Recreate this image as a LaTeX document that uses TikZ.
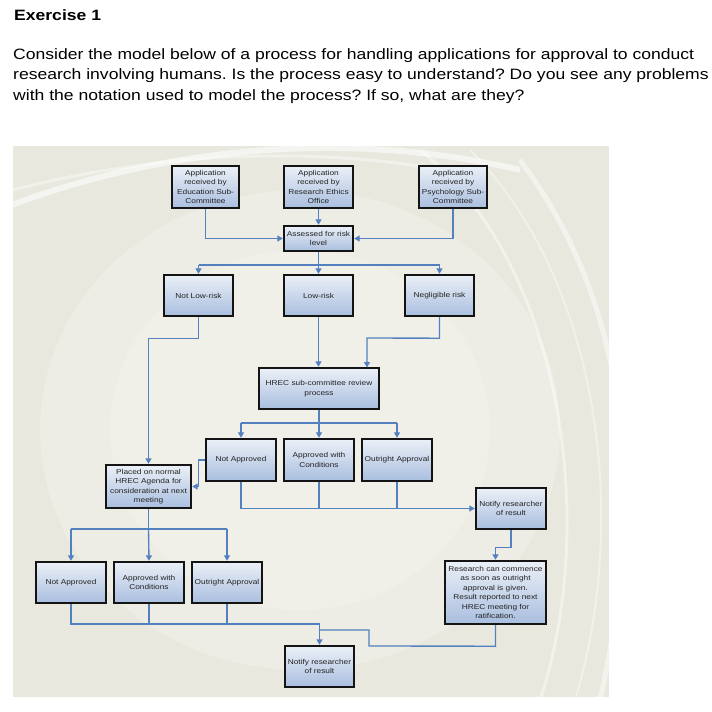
\documentclass[tikz,border=0pt]{standalone}
\usepackage{fontspec}
\setmainfont{Liberation Sans}[FakeStretch=1.17]
\usetikzlibrary{arrows.meta}
\definecolor{panel}{HTML}{E8E8DE}
\definecolor{boxtop}{HTML}{EBF0F7}
\definecolor{boxbot}{HTML}{A9BEDF}
\definecolor{conn}{HTML}{5380BF}
\definecolor{boxtext}{HTML}{222222}
\tikzset{
  procbox/.style={draw=black!92, line width=2.4pt, top color=boxtop, bottom color=boxbot,
    align=center, inner sep=1pt, text=boxtext,
    font=\fontsize{7.1}{9.5}\selectfont},
  flow/.style={draw=conn, line width=1.35pt},
  flowarr/.style={flow, -{Triangle[length=5.5pt,width=6pt]}},
  bodytext/.style={anchor=base west, inner sep=0pt, font=\fontsize{15}{21}\selectfont}
}
\newcommand{\pbox}[6]{\node[procbox, minimum width=#4pt, minimum height=#5pt] (#1) at (#2,#3) {#6};}
\frenchspacing
\begin{document}
\begin{tikzpicture}[x=1pt,y=-1pt]
\useasboundingbox[fill=white] (0,0) rectangle (712,712);
% texts
\node[bodytext, font=\fontsize{15}{21}\selectfont\bfseries] (title) at (14,20.7) {Exercise 1};
\node[bodytext] (l1) at (13,59) {Consider the model below of a process for handling applications for approval to conduct};
\node[bodytext] (l2) at (13,79.5) {research involving humans. Is the process easy to understand? Do you see any problems};
\node[bodytext] (l3) at (13,100) {with the notation used to model the process? If so, what are they?};
% panel
\fill[panel] (13,146) rectangle (609,697);
\begin{scope}
\clip (13,146) rectangle (609,697);
\fill[white, opacity=0.22] (300,430) ellipse (260 and 240);
\fill[white, opacity=0.18] (300,430) ellipse (190 and 180);
\draw[white, opacity=0.55, line width=6pt] (-60,235) .. controls (120,150) and (330,125) .. (520,170);
\draw[white, opacity=0.4, line width=3pt] (-40,205) .. controls (120,155) and (300,140) .. (470,175);
\draw[white, opacity=0.45, line width=3pt] (420,150) .. controls (560,260) and (600,520) .. (540,700);
\draw[white, opacity=0.4, line width=2pt] (470,150) .. controls (600,280) and (630,520) .. (575,700);
\draw[white, opacity=0.5, line width=5pt] (520,160) .. controls (640,320) and (640,520) .. (600,700);
\end{scope}
% boxes
\pbox{edu}{205.5}{187}{67}{42}{Application\\received by\\Education Sub-\\Committee}
\pbox{re}{318.5}{187}{69}{42}{Application\\received by\\Research Ethics\\Office}
\pbox{psy}{453}{187}{68}{42}{Application\\received by\\Psychology Sub-\\Committee}
\pbox{ass}{318.5}{238.5}{69}{25}{Assessed for risk\\level}
\pbox{nlr}{198.5}{295.5}{69}{41}{Not Low-risk}
\pbox{lr}{318.5}{295.5}{69}{41}{Low-risk}
\pbox{neg}{439.5}{295.5}{69}{41}{Negligible risk}
\pbox{hrec}{319}{388.5}{120}{41}{HREC sub-committee review\\process}
\pbox{naA}{241}{460}{70}{42}{Not Approved}
\pbox{awcA}{319}{460}{70}{42}{Approved with\\Conditions}
\pbox{oaA}{397}{460}{70}{42}{Outright Approval}
\pbox{placed}{148.5}{486.5}{85}{43}{Placed on normal\\HREC Agenda for\\consideration at next\\meeting}
\pbox{notA}{511}{508.5}{70}{41}{Notify researcher\\of result}
\pbox{res}{495.5}{592.5}{101}{63}{Research can commence\\as soon as outright\\approval is given.\\Result reported to next\\HREC meeting for\\ratification.}
\pbox{naB}{71}{582.5}{70}{41}{Not Approved}
\pbox{awcB}{149}{582.5}{70}{41}{Approved with\\Conditions}
\pbox{oaB}{227}{582.5}{70}{41}{Outright Approval}
\pbox{notB}{319.5}{666.5}{69}{41}{Notify researcher\\of result}
% junction coordinates
\coordinate (j1) at (318.5,265);
\coordinate (j2) at (319,423);
\coordinate (j3) at (148.5,529);
\coordinate (j4) at (319.5,624);
\coordinate (j5) at (319.5,630);
% connectors
\draw[flowarr] (edu.south) |- (ass.west);
\draw[flowarr] (psy.south) |- (ass.east);
\draw[flowarr] (re.south) -- (ass.north);
\draw[flow] (ass.south) -- (j1);
\draw[flow] (nlr.north |- j1) -- (neg.north |- j1);
\draw[flowarr] (nlr.north |- j1) -- (nlr.north);
\draw[flowarr] (j1) -- (lr.north);
\draw[flowarr] (neg.north |- j1) -- (neg.north);
\draw[flowarr] (nlr.south) -- ++(0,21) -| (placed.north);
\draw[flowarr] (lr.south) -- (lr.south |- hrec.north);
\draw[flowarr] (neg.south) -- ++(0,21) -- (367,338) -- (367,367.5);
\draw[flow] (hrec.south) -- (j2);
\draw[flow] (naA.north |- j2) -- (oaA.north |- j2);
\draw[flowarr] (naA.north |- j2) -- (naA.north);
\draw[flowarr] (j2) -- (awcA.north);
\draw[flowarr] (oaA.north |- j2) -- (oaA.north);
\draw[flowarr] (naA.west) -- ++(-6,0) |- (placed.east);
\draw[flowarr] (naA.south) |- (notA.west);
\draw[flow] (awcA.south) -- (awcA.south |- notA.west);
\draw[flow] (oaA.south) -- (oaA.south |- notA.west);
\draw[flowarr] (notA.south) -- ++(0,17) -| (res.north);
\draw[flow] (placed.south) -- (j3);
\draw[flow] (naB.north |- j3) -- (oaB.north |- j3);
\draw[flowarr] (naB.north |- j3) -- (naB.north);
\draw[flowarr] (j3) -- (awcB.north);
\draw[flowarr] (oaB.north |- j3) -- (oaB.north);
\draw[flow] (naB.south) |- (j4);
\draw[flow] (awcB.south) -- (awcB.south |- j4);
\draw[flow] (oaB.south) -- (oaB.south |- j4);
\draw[flowarr] (j4) -- (notB.north);
\draw[flow] (res.south) -- ++(0,21) -- (369,646) -- (369,630) -- (j5);
\end{tikzpicture}
\end{document}
